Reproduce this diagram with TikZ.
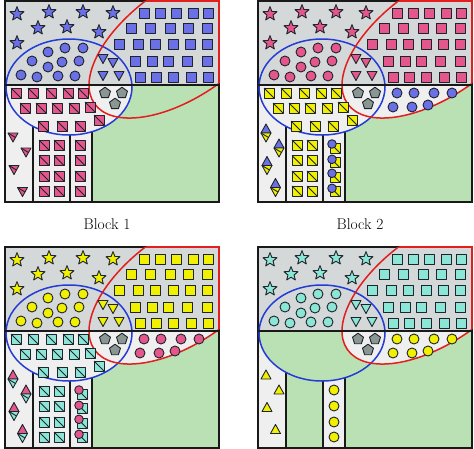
\documentclass[tikz,border=0pt]{standalone}
\usepackage{tikz}
\definecolor{topgray}{RGB}{212,216,216}
\definecolor{lightbg}{RGB}{239,239,239}
\definecolor{greenbg}{RGB}{186,225,180}
\definecolor{symblue}{RGB}{108,112,230}
\definecolor{sympink}{RGB}{229,86,140}
\definecolor{symyellow}{RGB}{240,240,0}
\definecolor{symcyan}{RGB}{140,230,214}
\definecolor{pentgray}{RGB}{138,150,146}
\definecolor{outl}{RGB}{30,36,44}
\definecolor{ellred}{RGB}{226,30,30}
\definecolor{ellblue}{RGB}{36,60,214}
\tikzset{
 sym/.style={draw=outl, line width=0.9pt, line join=round},
 boxline/.style={draw=black!90, line width=1.6pt},
 ellline/.style={line width=1.5pt},
 pics/starsym/.style={code={\path[sym,fill=#1] (90:7.4pt)--(126:3.2pt)--(162:7.4pt)--(198:3.2pt)--(234:7.4pt)--(270:3.2pt)--(306:7.4pt)--(342:3.2pt)--(18:7.4pt)--(54:3.2pt)--cycle;}},
 pics/dotsym/.style={code={\path[sym,fill=#1] (0pt,0pt) circle[radius=5pt];}},
 pics/smalldot/.style={code={\path[sym,fill=#1] (0pt,0pt) circle[radius=4.3pt];}},
 pics/sqsym/.style={code={\path[sym,fill=#1] (-5pt,-5pt) rectangle (5pt,5pt);}},
 pics/hsqsym/.style={code={\path[sym,fill=#1] (-5pt,-5pt) rectangle (5pt,5pt); \path[sym] (-5pt,5pt)--(5pt,-5pt);}},
 pics/dtrisym/.style={code={\path[sym,fill=#1] (-5pt,4.5pt)--(5pt,4.5pt)--(0pt,-4.5pt)--cycle;}},
 pics/utrisym/.style={code={\path[sym,fill=#1] (-5pt,0pt)--(5pt,0pt)--(0pt,9pt)--cycle;}},
 pics/hdtrisym/.style={code={\path[sym,fill=#1] (-5pt,0pt)--(5pt,0pt)--(0pt,-9pt)--cycle; \path[sym] (-5pt,0pt)--(2.5pt,-4.5pt);}},
 pics/pentsym/.style={code={\path[sym,fill=pentgray] (90:5.8pt)--(162:5.8pt)--(234:5.8pt)--(306:5.8pt)--(18:5.8pt)--cycle;}},
}
\newcommand\blueEllFill[1]{\path[#1] (69,87) ellipse [x radius=63pt, y radius=48pt];}
\newcommand\redEllPath[1]{\path[#1, shift={(184.5,40.5)}, rotate=35] (0pt,0pt) ellipse [x radius=110pt, y radius=55pt];}
\newcommand\blockbase{%
 \fill[topgray] (5,1) rectangle (219,85);
 \fill[greenbg] (5,85) rectangle (219,202);
}
\newcommand\blocklines{%
 \draw[boxline] (5,1) rectangle (219,202);
 \draw[boxline] (33,126.4) -- (33,202);
 \draw[boxline] (70,135) -- (70,202);
 \draw[boxline] (92,131.7) -- (92,202);
 \begin{scope}
  \clip (5,1) rectangle (219,202);
  \blueEllFill{draw=ellblue, ellline}
  \redEllPath{draw=ellred, ellline}
 \end{scope}
 \begin{scope}
  \redEllPath{clip}
  \draw[ellred, line width=1.6pt] (5,1) -- (219,1) -- (219,202);
 \end{scope}
 \draw[boxline] (5,85) -- (219,85);
}
\newcommand\topsyms[1]{%
 \foreach \x/\y in {17/14,49/12,83/12,113/13,38/28,67/27,99/32,17/43} \pic at (\x,\y) {starsym=#1};
 \foreach \x/\y in {48/52,65/48,83/48,32/61,48/67,62/62,79/61,21/75,37/77,58/76,75/76} \pic at (\x,\y) {dotsym=#1};
 \foreach \x/\y in {103/59,113/63,103/76,119/76} \pic at (\x,\y) {dtrisym=#1};
 \foreach \x/\y in {144/13,160/13,176/13,193/13,208/13,131/28,150/28,170/28,188/28,207/28,119/44,138/44,155/44,173/44,190/44,207/44,135/61,152/61,168/61,187/61,207/61,140/77,156/77,173/77,191/77,208/77} \pic at (\x,\y) {sqsym=#1};
 \foreach \x/\y in {105/93,122/93,115/104} \pic at (\x,\y) {pentsym};
}
\newcommand\hatchsyms[1]{%
 \foreach \x/\y in {16/93,33/93,51/93,68/93,83/93,25/108,41/108,57/108,74/108,90/107,43/126,62/126,80/126,99/120,44/145,59/145,44/160.5,59/160.5,44/176,59/176,44/191,59/191} \pic at (\x,\y) {hsqsym=#1};
}
\newcommand\redcircs[1]{%
 \foreach \x/\y in {144/93,161/93,181/93,199/93,140/107,159/107,175/105} \pic at (\x,\y) {dotsym=#1};
}
\newcommand\diamonds[2]{%
 \foreach \x/\y in {13/133,26/148,14/165.5,22.5/187.5} {\pic at (\x,\y) {utrisym=#1}; \pic at (\x,\y) {hdtrisym=#2};}
}
\newcommand\combos[2]{%
 \foreach \y/\z in {148/144,162.7/159.3,177.3/173.3,191.7/188.3} {\pic at (82,\y) {hsqsym=#2}; \pic at (79,\z) {smalldot=#1};}
}
\begin{document}
\begin{tikzpicture}[x=1pt,y=-1pt]
\useasboundingbox (0,0) rectangle (474,448);
\fill[white] (0,0) rectangle (474,448);
% ---------- Block 1
\begin{scope}
 \blockbase
 \begin{scope}
  \clip (5,85) rectangle (219,202);
  \fill[lightbg] (5,85) rectangle (92,202);
  \blueEllFill{fill=lightbg}
 \end{scope}
 \blocklines
 \topsyms{symblue}
 \hatchsyms{sympink}
 \foreach \x/\y in {80/145,80/160.5,80/176,80/191} \pic at (\x,\y) {hsqsym=sympink};
 \foreach \x/\y in {13/133,26/148,14/165.5,22.5/187.5} \pic at (\x,\y) {hdtrisym=sympink};
\end{scope}
% ---------- Block 2
\begin{scope}[shift={(253,0)}]
 \blockbase
 \begin{scope}
  \clip (5,85) rectangle (219,202);
  \fill[lightbg] (5,85) rectangle (92,202);
  \blueEllFill{fill=lightbg}
  \redEllPath{fill=lightbg}
 \end{scope}
 \blocklines
 \topsyms{sympink}
 \hatchsyms{symyellow}
 \redcircs{symblue}
 \diamonds{symblue}{symyellow}
 \combos{symblue}{symyellow}
\end{scope}
% ---------- Block 3
\begin{scope}[shift={(0,246)}]
 \blockbase
 \begin{scope}
  \clip (5,85) rectangle (219,202);
  \fill[lightbg] (5,85) rectangle (92,202);
  \blueEllFill{fill=lightbg}
  \redEllPath{fill=lightbg}
 \end{scope}
 \blocklines
 \topsyms{symyellow}
 \hatchsyms{symcyan}
 \redcircs{sympink}
 \diamonds{sympink}{symcyan}
 \combos{sympink}{symcyan}
\end{scope}
% ---------- Block 4
\begin{scope}[shift={(253,246)}]
 \blockbase
 \begin{scope}
  \clip (5,85) rectangle (219,202);
  \fill[lightbg] (5,85) rectangle (33,202);
  \fill[lightbg] (70,85) rectangle (92,202);
  \blueEllFill{fill=greenbg}
  \redEllPath{fill=lightbg}
 \end{scope}
 \blocklines
 \topsyms{symcyan}
 \redcircs{symyellow}
 \foreach \x/\y in {13/133,26/148,14/165.5,22.5/187.5} \pic at (\x,\y) {utrisym=symyellow};
 \foreach \y in {144,160,176,191} \pic at (81,\y) {dotsym=symyellow};
\end{scope}
% ---------- labels
\node[font=\fontsize{15.5}{18}\selectfont, anchor=base] (lab1) at (107,229) {Block 1};
\node[font=\fontsize{15.5}{18}\selectfont, anchor=base] (lab2) at (360,229) {Block 2};
\end{tikzpicture}
\end{document}
